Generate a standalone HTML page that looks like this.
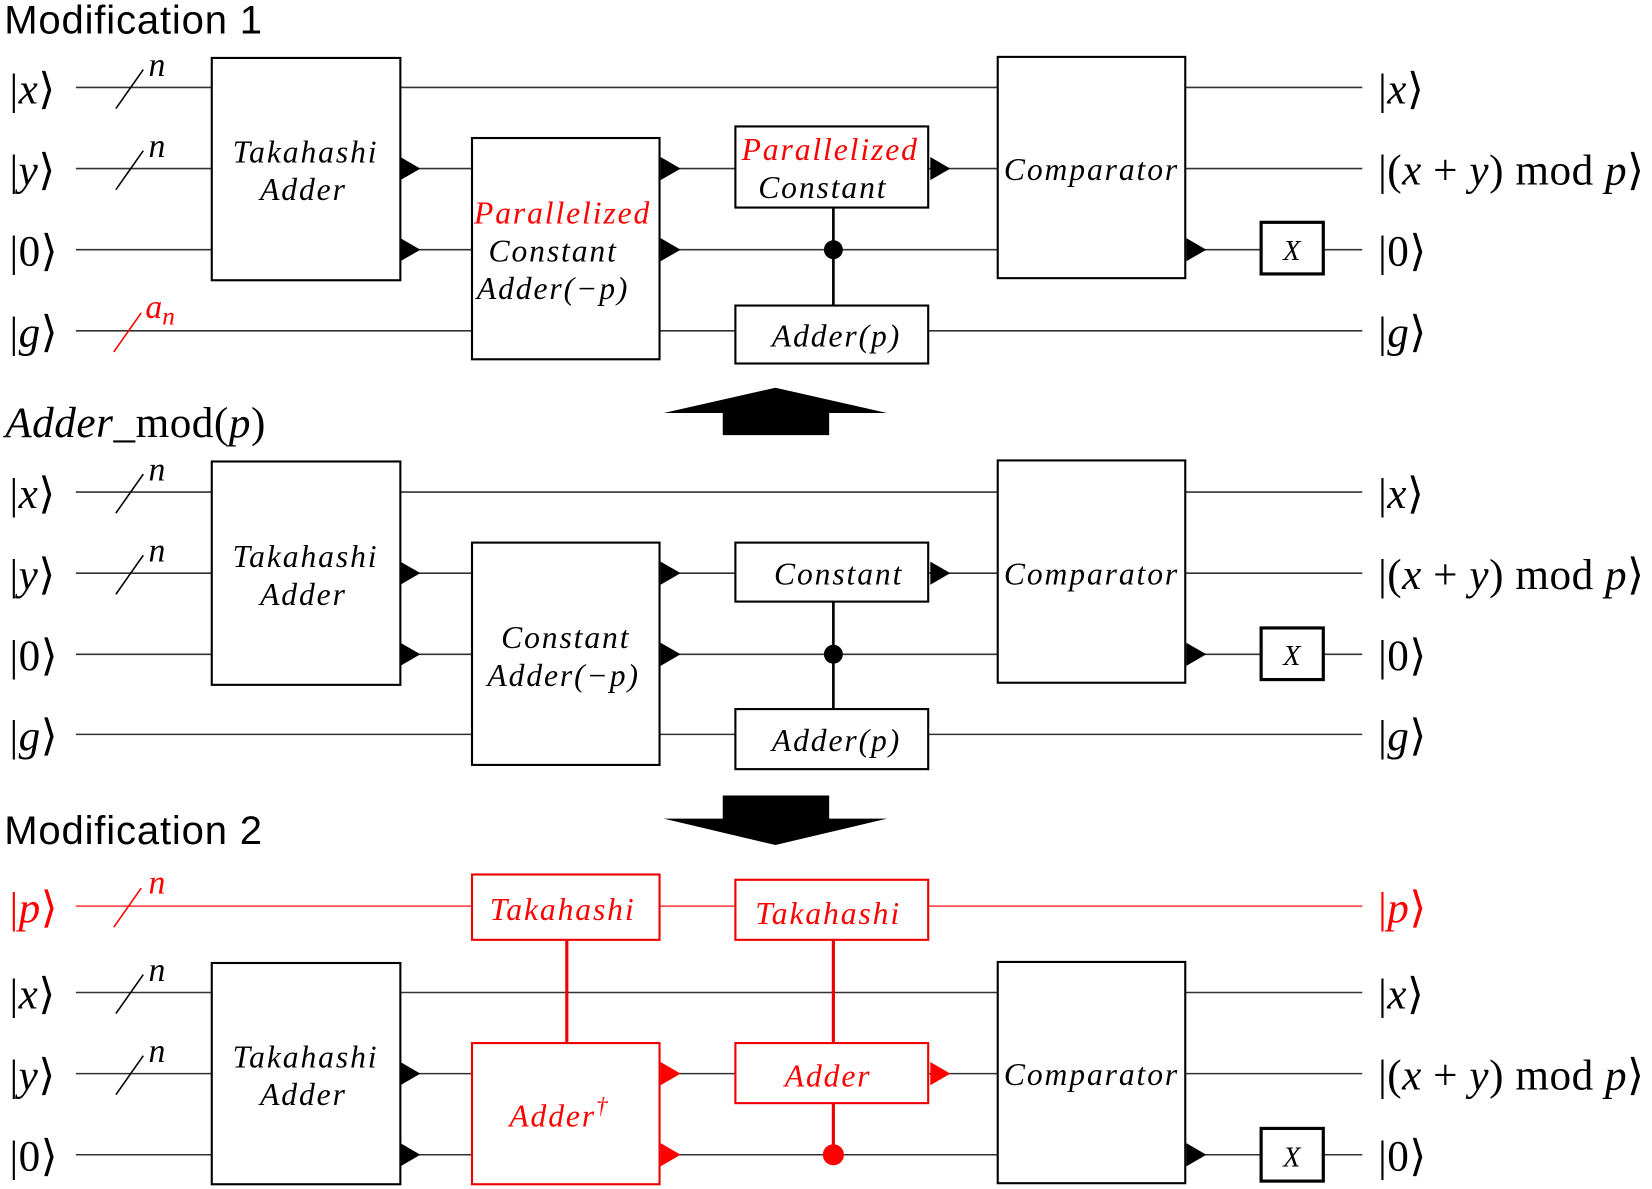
<!DOCTYPE html>
<html><head><meta charset="utf-8"><style>
html,body{margin:0;padding:0;background:#fff}
svg{display:block}
.l{font-family:"Liberation Serif",serif;font-size:41px;fill:#000;letter-spacing:0.5px}
.i{font-style:italic}
.b{font-family:"Liberation Serif",serif;font-style:italic;font-size:30px;letter-spacing:1.8px;text-anchor:middle}
.t{font-family:"Liberation Sans",sans-serif;font-size:38px;letter-spacing:0.8px}
.n{font-family:"Liberation Serif",serif;font-style:italic;font-size:32px}
</style></head><body>
<svg width="1652" height="1189" viewBox="0 0 1568 1128.5" preserveAspectRatio="none" xmlns="http://www.w3.org/2000/svg">
<defs>
<g id="tri"><polygon points="0,-11 19,0 0,11" /></g>
</defs>
<g stroke="#333" stroke-width="1.5" fill="none">
<path d="M72 83H201M380 83H947M1125 83H1293"/>
<path d="M72 160H201M380 160H448M626 160H698M881 160H947M1125 160H1293"/>
<path d="M72 237H201M380 237H448M626 237H947M1125 237H1197M1256 237H1293"/>
<path d="M72 314H448M626 314H698M881 314H1293"/>
<path d="M72 467H201M380 467H947M1125 467H1293"/>
<path d="M72 544H201M380 544H448M626 544H698M881 544H947M1125 544H1293"/>
<path d="M72 621H201M380 621H448M626 621H947M1125 621H1197M1256 621H1293"/>
<path d="M72 697H448M626 697H698M881 697H1293"/>
<path d="M72 942H201M380 942H947M1125 942H1293"/>
<path d="M72 1019H201M380 1019H448M626 1019H698M881 1019H947M1125 1019H1293"/>
<path d="M72 1096H201M380 1096H448M626 1096H947M1125 1096H1197M1256 1096H1293"/>
</g>
<path d="M72 860H448M626 860H698M881 860H1293" stroke="#f33" stroke-width="1.5"/>
<g stroke="#000" stroke-width="1.5">
<path d="M110 103L136 66M110 180L136 143M110 487L136 450M110 564L136 527M110 962L136 925M110 1039L136 1002"/>
</g>
<path d="M108 334L134 297M108 880L134 843" stroke="#f00" stroke-width="1.5"/>
<g class="n">
<text x="141" y="72">n</text><text x="141" y="149">n</text>
<text x="141" y="456">n</text><text x="141" y="533">n</text>
<text x="141" y="931">n</text><text x="141" y="1008">n</text>
<text x="138" y="302" fill="#f00">a<tspan font-size="24" dy="6">n</tspan></text>
<text x="141" y="848" fill="#f00">n</text>
</g>
<g fill="#fff" stroke="#000" stroke-width="2">
<rect x="201" y="55" width="179" height="211"/>
<rect x="448" y="131" width="178" height="210"/>
<rect x="698" y="120" width="183" height="77"/>
<rect x="698" y="290" width="183" height="55"/>
<rect x="947" y="54" width="178" height="210"/>
<rect x="1197" y="211" width="59" height="49" stroke-width="3"/>
<rect x="201" y="438" width="179" height="212"/>
<rect x="448" y="515" width="178" height="211"/>
<rect x="698" y="515" width="183" height="56"/>
<rect x="698" y="673" width="183" height="57"/>
<rect x="947" y="437" width="178" height="211"/>
<rect x="1197" y="596" width="59" height="49" stroke-width="3"/>
<rect x="201" y="914" width="179" height="210"/>
<rect x="947" y="913" width="178" height="210"/>
<rect x="1197" y="1071" width="59" height="50" stroke-width="3"/>
</g>
<path d="M791 197V290M791 571V673" stroke="#000" stroke-width="2.5"/>
<circle cx="791" cy="237" r="9"/><circle cx="791" cy="621" r="9"/>
<path d="M538 892V990M791 892V990M791 1047V1096" stroke="#e00" stroke-width="3"/>
<circle cx="791" cy="1096" r="10" fill="#f00"/>
<g fill="#fff" stroke="#e00" stroke-width="2">
<rect x="448" y="830" width="178" height="62"/>
<rect x="698" y="835" width="183" height="57"/>
<rect x="448" y="990" width="178" height="134"/>
<rect x="698" y="990" width="183" height="57"/>
</g>
<g fill="#000">
<use href="#tri" x="380" y="160"/><use href="#tri" x="380" y="237"/>
<use href="#tri" x="627" y="160"/><use href="#tri" x="627" y="237"/>
<use href="#tri" x="883" y="160"/><use href="#tri" x="1126" y="237"/>
<use href="#tri" x="380" y="544"/><use href="#tri" x="380" y="621"/>
<use href="#tri" x="627" y="544"/><use href="#tri" x="627" y="621"/>
<use href="#tri" x="883" y="544"/><use href="#tri" x="1126" y="621"/>
<use href="#tri" x="380" y="1019"/><use href="#tri" x="380" y="1096"/>
<use href="#tri" x="1126" y="1096"/>
</g>
<g fill="#f00">
<use href="#tri" x="627" y="1019"/><use href="#tri" x="627" y="1096"/>
<use href="#tri" x="883" y="1019"/>
</g>
<polygon points="736,368 842,392 787,392 787,413 686,413 686,392 630,392"/>
<polygon points="686,755 787,755 787,777 842,777 736,802 630,777 686,777"/>
<g class="b">
<text x="290" y="154">Takahashi</text><text x="288" y="190">Adder</text>
<text x="534" y="212" fill="#f00">Parallelized</text><text x="525" y="248">Constant</text><text x="525" y="284">Adder(−p)</text>
<text x="788" y="152" fill="#f00">Parallelized</text><text x="781" y="188">Constant</text>
<text x="794" y="329">Adder(p)</text>
<text x="1036" y="171">Comparator</text>
<text x="1227" y="247" font-size="27">X</text>
<text x="290" y="538">Takahashi</text><text x="288" y="574">Adder</text>
<text x="537" y="615">Constant</text><text x="535" y="651">Adder(−p)</text>
<text x="796" y="555">Constant</text>
<text x="794" y="713">Adder(p)</text>
<text x="1036" y="555">Comparator</text>
<text x="1227" y="631" font-size="27">X</text>
<text x="534" y="873" fill="#f00">Takahashi</text>
<text x="786" y="877" fill="#f00">Takahashi</text>
<text x="531" y="1069" fill="#f00">Adder<tspan font-size="22" dy="-12">†</tspan></text>
<text x="786" y="1031" fill="#f00">Adder</text>
<text x="290" y="1013">Takahashi</text><text x="288" y="1049">Adder</text>
<text x="1036" y="1030">Comparator</text>
<text x="1227" y="1107" font-size="27">X</text>
</g>
<text class="t" x="4" y="32">Modification 1</text>
<text class="t" x="4" y="801">Modification 2</text>
<text class="l" x="5" y="415"><tspan class="i">Adder</tspan>_mod(<tspan class="i">p</tspan>)</text>
<g class="l">
<text x="9" y="98">|<tspan class="i">x</tspan>⟩</text>
<text x="9" y="175">|<tspan class="i">y</tspan>⟩</text>
<text x="9" y="252">|0⟩</text>
<text x="9" y="329">|<tspan class="i">g</tspan>⟩</text>
<text x="9" y="482">|<tspan class="i">x</tspan>⟩</text>
<text x="9" y="559">|<tspan class="i">y</tspan>⟩</text>
<text x="9" y="636">|0⟩</text>
<text x="9" y="712">|<tspan class="i">g</tspan>⟩</text>
<text x="9" y="875" fill="#f00">|<tspan class="i">p</tspan>⟩</text>
<text x="9" y="957">|<tspan class="i">x</tspan>⟩</text>
<text x="9" y="1034">|<tspan class="i">y</tspan>⟩</text>
<text x="9" y="1111">|0⟩</text>
<text x="1308" y="98">|<tspan class="i">x</tspan>⟩</text>
<text x="1308" y="175">|(<tspan class="i">x</tspan> + <tspan class="i">y</tspan>) mod <tspan class="i">p</tspan>⟩</text>
<text x="1308" y="252">|0⟩</text>
<text x="1308" y="329">|<tspan class="i">g</tspan>⟩</text>
<text x="1308" y="482">|<tspan class="i">x</tspan>⟩</text>
<text x="1308" y="559">|(<tspan class="i">x</tspan> + <tspan class="i">y</tspan>) mod <tspan class="i">p</tspan>⟩</text>
<text x="1308" y="636">|0⟩</text>
<text x="1308" y="712">|<tspan class="i">g</tspan>⟩</text>
<text x="1308" y="875" fill="#f00">|<tspan class="i">p</tspan>⟩</text>
<text x="1308" y="957">|<tspan class="i">x</tspan>⟩</text>
<text x="1308" y="1034">|(<tspan class="i">x</tspan> + <tspan class="i">y</tspan>) mod <tspan class="i">p</tspan>⟩</text>
<text x="1308" y="1111">|0⟩</text>
</g>
</svg>
</body></html>
